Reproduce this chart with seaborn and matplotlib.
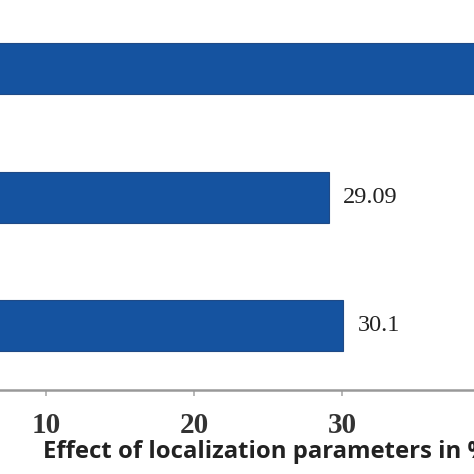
import matplotlib
matplotlib.use('Agg')
import matplotlib.pyplot as plt
import seaborn as sns
import pandas as pd

categories = ['A', 'B', 'C']
values = [41.0, 29.09, 30.1]
value_labels = ['', '29.09', '30.1']
xticks = [10, 20, 30]

sns.set_theme(style='white')

df = pd.DataFrame({'cat': categories, 'val': values})

fig = plt.figure(figsize=(4.74, 4.74), dpi=100)
# axes deliberately larger than the figure: the reference is a crop
ax = fig.add_axes([-0.2152, 0.1772, 1.405, 0.8404])

sns.barplot(data=df, y='cat', x='val', orient='h', color='#1553a0',
            width=0.4, saturation=1, edgecolor='#1f4a86', linewidth=0.8, ax=ax)

ax.set_xlim(0, 45)
ax.set_ylim(2.5, -0.6)

for i, (v, lab) in enumerate(zip(values, value_labels)):
    if lab:
        ax.text(v + 1.0, i, lab, va='center', ha='left', fontsize=17.5,
                family='Liberation Serif', color='#222222')

ax.set_xticks(xticks)
ax.set_xticklabels([str(t) for t in xticks], family='Liberation Serif',
                   fontsize=21, fontweight='bold', color='#333333')
ax.tick_params(axis='x', direction='out', length=4, width=1.2,
               color='#aaaaaa', pad=12, bottom=True)
ax.set_yticks([])
ax.set_ylabel('')

for s in ['top', 'right', 'left']:
    ax.spines[s].set_visible(False)
ax.spines['bottom'].set_color('#999999')
ax.spines['bottom'].set_linewidth(1.8)

ax.set_xlabel('Effect of localization parameters in %', family='Open Sans',
              fontsize=17.2, fontweight='bold', color='#222222',
              ha='left', va='center')
ax.xaxis.set_label_coords(0.2177, -0.156)

fig.savefig('out.png', dpi=100)
